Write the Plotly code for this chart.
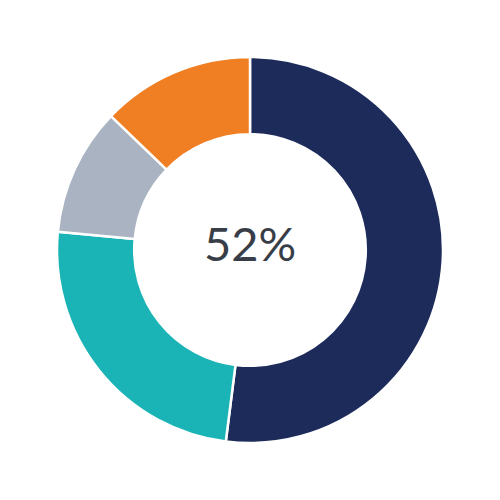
import plotly.graph_objects as go

labels = ["Navy", "Teal", "Gray", "Orange"]
values = [52.0, 24.5, 10.7, 12.8]
colors = ["#1c2b5a", "#1bb4b6", "#a9b3c1", "#f07e22"]
center_text = "52%"

fig = go.Figure(go.Pie(
    labels=labels, values=values, hole=0.6, sort=False,
    direction="clockwise", rotation=0,
    marker=dict(colors=colors, line=dict(color="white", width=2.5)),
    textinfo="none", hoverinfo="label+percent", showlegend=False,
))

# page has an 8px body margin, so shift the domain up-left to compensate
fig.update_layout(
    width=500, height=500,
    margin={'l': 49, 'r': 65, 't': 49, 'b': 65, 'pad': 0},
    paper_bgcolor="white", plot_bgcolor="white",
    annotations=[dict(text=center_text, x=0.5, y=0.5, xref="paper", yref="paper",
                      yshift=7, showarrow=False,
                      font=dict(family="Lato", size=47, color="#383e47"))],
)

fig.write_html("out.html")
